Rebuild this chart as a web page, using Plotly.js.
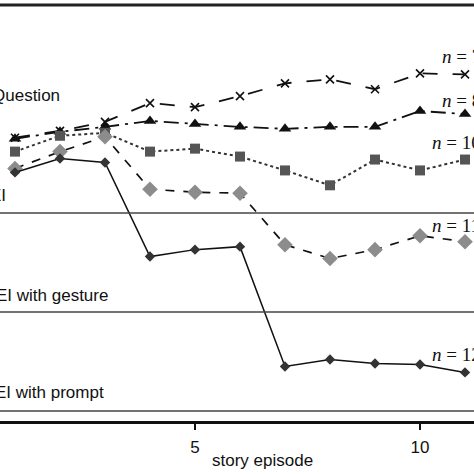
<!DOCTYPE html>
<html>
<head>
<meta charset="utf-8">
<script src="https://cdn.plot.ly/plotly-3.0.1.min.js"></script>
<style>html,body{margin:0;padding:0;background:#fff;}#chart{width:474px;height:474px;}</style>
</head>
<body>
<div id="chart"></div>
<script>
// story episodes
const episodes = [1, 2, 3, 4, 5, 6, 7, 8, 9, 10, 11];
// prompting level (0 = EI with prompt ... 3 = Question)
const groupN7  = [2.76, 2.83, 2.92, 3.11, 3.07, 3.18, 3.31, 3.35, 3.25, 3.41, 3.40];
const groupN8  = [2.75, 2.82, 2.87, 2.93, 2.90, 2.87, 2.85, 2.87, 2.87, 3.03, 3.00];
const groupN10 = [2.62, 2.78, 2.81, 2.62, 2.65, 2.57, 2.43, 2.28, 2.54, 2.43, 2.54];
const groupN11 = [2.45, 2.62, 2.77, 2.24, 2.21, 2.20, 1.68, 1.54, 1.63, 1.77, 1.71];
const groupN12 = [2.41, 2.55, 2.51, 1.56, 1.63, 1.66, 0.45, 0.52, 0.48, 0.47, 0.39];
const groupLabels = ['<i>n</i> = 7', '<i>n</i> = 8', '<i>n</i> = 10', '<i>n</i> = 11', '<i>n</i> = 12'];
const levelLabels = ['EI with prompt', 'EI with gesture', 'EI', 'Question'];
const levelBoundaries = [0, 1, 2];
const xTicks = [5, 10];
const xTitle = 'story episode';

const traces = [
  {x: episodes, y: groupN7, mode: 'lines+markers',
   line: {color: '#111', width: 1.8, dash: 'longdash'},
   marker: {symbol: 'x-thin', size: 8, line: {color: '#111', width: 1.6}}},
  {x: episodes, y: groupN8, mode: 'lines+markers',
   line: {color: '#111', width: 1.8, dash: 'longdashdot'},
   marker: {symbol: 'triangle-up', size: 11, color: '#111'}},
  {x: episodes, y: groupN10, mode: 'lines+markers',
   line: {color: '#333', width: 2, dash: 'dot'},
   marker: {symbol: 'square', size: 10, color: '#555'}},
  {x: episodes, y: groupN11, mode: 'lines+markers',
   line: {color: '#111', width: 1.7, dash: 'dash'},
   marker: {symbol: 'diamond', size: 12, color: '#8c8c8c'}},
  {x: episodes, y: groupN12, mode: 'lines+markers',
   line: {color: '#111', width: 1.5},
   marker: {symbol: 'diamond', size: 8, color: '#333'}}
];

const nY = [3.58, 3.14, 2.71, 1.87, 0.57];
const nX = [440, 440, 430, 430, 430];
const levelY = [0.19, 1.17, 2.18, 3.19];
const levelRight = [106, 110, 8, 62];

const annotations = [];
groupLabels.forEach((t, i) => annotations.push({
  text: t, xref: 'paper', x: nX[i] / 474, xanchor: 'left', yref: 'y', y: nY[i], yanchor: 'middle',
  showarrow: false, font: {family: 'Liberation Serif, Times New Roman, serif', size: 19, color: '#111'}
}));
levelLabels.forEach((t, i) => annotations.push({
  text: t, xref: 'paper', x: levelRight[i] / 474, xanchor: 'right', yref: 'y', y: levelY[i], yanchor: 'middle',
  showarrow: false, font: {family: 'Liberation Sans, Arial, sans-serif', size: 17, color: '#111'}
}));
annotations.push({
  text: xTitle, xref: 'paper', x: 262 / 474, xanchor: 'center', yref: 'paper', y: -0.096, yanchor: 'middle',
  showarrow: false, font: {family: 'Liberation Sans, Arial, sans-serif', size: 17, color: '#111'}
});

const shapes = levelBoundaries.map(v => ({
  type: 'line', xref: 'paper', x0: 0, x1: 1, yref: 'y', y0: v, y1: v,
  line: {color: '#444', width: 1.5}
}));
shapes.push({type: 'line', xref: 'paper', x0: 0, x1: 1, yref: 'paper', y0: 1, y1: 1,
  line: {color: '#222', width: 3}});

const layout = {
  width: 474, height: 474,
  margin: {l: 0, r: 0, t: 5, b: 53},
  paper_bgcolor: '#fff', plot_bgcolor: '#fff',
  showlegend: false,
  xaxis: {range: [0.667, 11.2], tickvals: xTicks, ticks: 'outside', ticklen: 6, tickwidth: 2,
          ticklabelstandoff: 3,
          tickcolor: '#111', showline: true, linecolor: '#111', linewidth: 3,
          showgrid: false, zeroline: false,
          tickfont: {family: 'Liberation Sans, Arial, sans-serif', size: 17, color: '#111'}},
  yaxis: {range: [-0.101, 4.101], visible: false, showgrid: false, zeroline: false},
  shapes: shapes,
  annotations: annotations
};

Plotly.newPlot('chart', traces, layout, {displayModeBar: false, staticPlot: true});
</script>
</body>
</html>
